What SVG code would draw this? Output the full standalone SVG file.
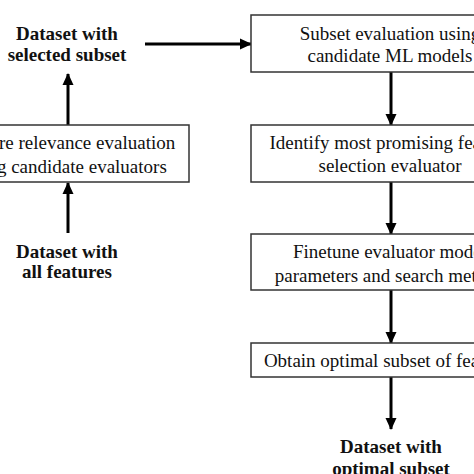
<svg xmlns="http://www.w3.org/2000/svg" width="474" height="474" viewBox="0 0 474 474">
<defs>
<style>
.box{fill:#fff;stroke:#333;stroke-width:1.5}
.t{font-family:"Liberation Serif","Times New Roman",serif;font-size:19px;fill:#111;text-anchor:middle}
.b{font-weight:bold}
.c{stroke:#000;stroke-width:3;fill:none}
</style>
<marker id="ah" markerWidth="12" markerHeight="12" viewBox="0 0 12 12" refX="11" refY="6" orient="auto" markerUnits="userSpaceOnUse">
<path d="M0,0.5 L12,6 L0,11.5 Z" fill="#000"/>
</marker>
</defs>
<rect width="474" height="474" fill="#fff"/>
<g id="connectors">
<line class="c" x1="145" y1="44" x2="251" y2="44" marker-end="url(#ah)"/>
<line class="c" x1="68" y1="125" x2="68" y2="74" marker-end="url(#ah)"/>
<line class="c" x1="68" y1="233" x2="68" y2="183" marker-end="url(#ah)"/>
<line class="c" x1="391" y1="72" x2="391" y2="125" marker-end="url(#ah)"/>
<line class="c" x1="391" y1="182" x2="391" y2="234" marker-end="url(#ah)"/>
<line class="c" x1="391" y1="290" x2="391" y2="343" marker-end="url(#ah)"/>
<line class="c" x1="391" y1="377" x2="391" y2="429" marker-end="url(#ah)"/>
</g>
<g id="n_selected">
<text class="t b" x="67" y="39.5">Dataset with</text>
<text class="t b" x="67" y="61">selected subset</text>
</g>
<g id="n_relevance">
<rect class="box" x="-56" y="125" width="245" height="57"/>
<text class="t" x="66" y="149">Feature relevance evaluation</text>
<text class="t" x="66" y="173">using candidate evaluators</text>
</g>
<g id="n_all">
<text class="t b" x="67" y="258">Dataset with</text>
<text class="t b" x="67" y="278">all features</text>
</g>
<g id="n_subset_eval">
<rect class="box" x="251" y="15" width="280" height="57"/>
<text class="t" x="390" y="40">Subset evaluation using</text>
<text class="t" x="390" y="62">candidate ML models</text>
</g>
<g id="n_identify">
<rect class="box" x="251" y="125" width="280" height="57"/>
<text class="t" x="390" y="149">Identify most promising feature</text>
<text class="t" x="390" y="172">selection evaluator</text>
</g>
<g id="n_finetune">
<rect class="box" x="251" y="234" width="280" height="56"/>
<text class="t" x="390" y="258">Finetune evaluator model</text>
<text class="t" x="390" y="282">parameters and search method</text>
</g>
<g id="n_obtain">
<rect class="box" x="251" y="343" width="280" height="34"/>
<text class="t" x="390" y="367">Obtain optimal subset of features</text>
</g>
<g id="n_optimal">
<text class="t b" x="391" y="453">Dataset with</text>
<text class="t b" x="391" y="475">optimal subset</text>
</g>
</svg>
